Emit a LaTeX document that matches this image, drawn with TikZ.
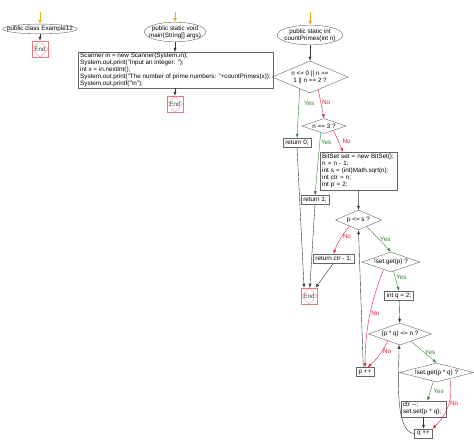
\documentclass[tikz,border=0pt]{standalone}
\usepackage{fontspec}
\setmainfont{Liberation Sans}
\usetikzlibrary{arrows.meta,shapes.geometric,calc}
\definecolor{startorange}{RGB}{245,170,20}
\definecolor{yesgreen}{RGB}{50,130,50}
\definecolor{nored}{RGB}{225,25,50}
\definecolor{shapegray}{RGB}{100,100,100}
\definecolor{endpink}{RGB}{230,120,130}
\tikzset{
  startnode/.style={ellipse, draw=shapegray, inner ysep=0.5pt, align=center},
  procbox/.style={draw=shapegray, inner xsep=2pt, inner ysep=1pt, align=left},
  smallbox/.style={draw=shapegray, inner xsep=2.5pt, inner ysep=1pt, minimum height=9pt},
  decision/.style={diamond, draw=shapegray, aspect=3, inner sep=0pt, align=center},
  endnode/.style={draw=endpink, minimum size=16pt, inner sep=0pt, text=black!75,
    path picture={\draw[endpink!60] (path picture bounding box.north) -- (path picture bounding box.east)
      -- (path picture bounding box.south) -- (path picture bounding box.west) -- cycle;}},
  arrow/.style={-{Latex[length=4pt,width=3pt]}, black!80},
  startarrow/.style={-{Latex[length=4pt,width=4pt]}, line width=1pt, startorange},
  yesarrow/.style={-{Latex[length=4pt,width=3pt]}, yesgreen},
  noarrow/.style={-{Latex[length=4pt,width=3pt]}, nored},
  yeslabel/.style={text=yesgreen, inner sep=1pt},
  nolabel/.style={text=nored, inner sep=1pt}
}

\begin{document}
\begin{tikzpicture}[x=1pt, y=-1pt, font=\fontsize{6.3}{7}\selectfont]
  \useasboundingbox (0,0) rectangle (474,446);

  % class Example12
  \coordinate (in1) at (40,12);
  \node[startnode, inner xsep=-6.5pt] (e1) at (40,29) {public class Example12};
  \node[endnode] (end1) at (40,49) {End};
  \draw[startarrow] (in1) -- (e1);
  \draw[arrow] (e1) -- (end1);

  % main
  \coordinate (in2) at (175,12);
  \node[startnode, inner xsep=-4.2pt] (e2) at (175,32) {public static void\\main(String[] args)};
  \node[procbox, minimum height=36pt, anchor=north west] (mainbody) at (78,52)
    {Scanner in = new Scanner(System.in);\\System.out.print("Input an integer: ");\\int x = in.nextInt();\\System.out.print("The number of prime numbers: "+countPrimes(x));\\System.out.printf("\textbackslash n");};
  \node[endnode] (end2) at (175,104) {End};
  \draw[startarrow] (in2) -- (e2);
  \draw[arrow] (e2) -- (e2 |- mainbody.north);
  \draw[arrow] (end2 |- mainbody.south) -- (end2);

  % countPrimes
  \coordinate (in3) at (310,12);
  \node[startnode, inner xsep=-2.3pt] (e3) at (310,35) {public static int\\countPrimes(int n)};
  \node[decision, minimum width=70pt, minimum height=32pt] (d1) at (310,77) {n <= 0 || n ==\\1 || n == 2 ?};
  \node[decision, minimum width=44pt, minimum height=15pt] (d2) at (324,126) {n == 3 ?};
  \node[smallbox] (ret0) at (297,142.5) {return 0;};
  \node[procbox, text width=73pt, minimum height=38pt, anchor=north west] (bitset) at (320,152)
    {BitSet set = new BitSet();\\n = n - 1;\\int s = (int)Math.sqrt(n);\\int ctr = n;\\int p = 2;};
  \node[smallbox] (ret1) at (315,200) {return 1;};
  \node[decision, minimum width=46pt, minimum height=20pt] (d3) at (358.5,220) {p <= s ?};
  \node[smallbox] (retctr) at (333.5,258.5) {return ctr - 1;};
  \node[decision, minimum width=58pt, minimum height=20pt] (d4) at (391,262) {!set.get(p) ?};
  \node[smallbox] (intq) at (399,295.5) {int q = 2;};
  \node[decision, minimum width=63pt, minimum height=22pt] (d5) at (400,334) {(p * q) <= n ?};
  \node[smallbox] (pinc) at (365,372) {p ++};
  \node[decision, aspect=4, minimum width=74pt, minimum height=19pt] (d6) at (436.5,372.5) {!set.get(p * q) ?};
  \node[procbox, text width=41pt, minimum height=16pt] (ctrbox) at (423.5,409) {ctr -{}-;\\set.set(p * q);};
  \node[smallbox] (qinc) at (423.5,433.5) {q ++};
  \node[endnode] (end3) at (309,296) {End};

  \draw[startarrow] (in3) -- (e3);
  \draw[arrow] (e3) -- (d1);
  \draw[yesarrow] (d1.229) -- node[yeslabel, pos=0.3, right=4pt] {Yes} (ret0.north);
  \draw[noarrow] (d1.303) -- node[nolabel, pos=0.45, right] {No} (d2.north);
  \draw[yesarrow] (d2.243) -- node[yeslabel, pos=0.15, right] {Yes} (ret1.north);
  \draw[noarrow] (d2.335) -- node[nolabel, pos=0.5, right=3pt] {No} ($(bitset.north west)!0.3!(bitset.north east)$);
  \draw[arrow] (bitset.south) -- (d3.north);
  \draw[noarrow] (d3.215) to[bend right=10] node[nolabel, pos=0.4, right] {No} (retctr.north);
  \draw[yesarrow] (d3.322) -- node[yeslabel, pos=0.5, right] {Yes} (d4.north);
  \draw[yesarrow] (d4.285) -- node[yeslabel, pos=0.3, right] {Yes} (intq.north);
  \draw[noarrow] (d4.225) to[bend right=10] node[nolabel, pos=0.45, right] {No} (pinc.north);
  \draw[arrow] (intq) -- (d5);
  \draw[noarrow] (d5.210) to[bend left=10] node[nolabel, pos=0.35, right] {No} (pinc.60);
  \draw[yesarrow] (d5.326) -- node[yeslabel, pos=0.5, right] {Yes} (d6.north);
  \draw[yesarrow] (d6.250) -- node[yeslabel, pos=0.5, right=2pt] {Yes} ($(ctrbox.north)+(4,0)$);
  \draw[noarrow] (d6.335) to[out=-80, in=45] node[nolabel, pos=0.45, right] {No} (qinc.north east);
  \draw[arrow] (ctrbox) -- (qinc);
  \draw[arrow] (qinc.west) to[out=180, in=-90, looseness=0.6] (d5.265);
  \draw[arrow] (pinc.110) -- (d3.south);
  \draw[arrow] (ret0.south) -- ($(end3.north west)!0.2!(end3.north east)$);
  \draw[arrow] (ret1.south) -- ($(end3.north west)!0.55!(end3.north east)$);
  \draw[arrow] (retctr.south) -- ($(end3.north west)!0.9!(end3.north east)$);
\end{tikzpicture}
\end{document}
